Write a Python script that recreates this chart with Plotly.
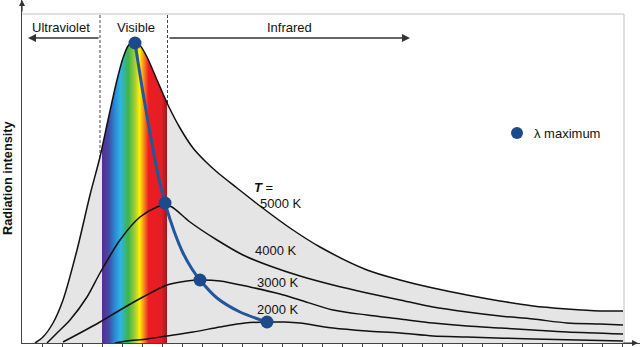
import numpy as np
import plotly.graph_objects as go

# ---- data (arbitrary wavelength / intensity units) ----
x5000 = [13, 21, 31, 41, 55, 68, 78, 86, 95, 101, 106, 111, 117, 125, 135, 146, 158, 171, 183, 195,
         215, 238, 268, 298, 345, 378, 411, 445, 478, 511, 545, 578, 601]
y5000 = [0, 6, 20, 43, 93, 148, 186, 223, 263, 285, 297, 302, 299, 286, 263, 238, 215, 195, 182, 171,
         155, 137, 115, 96, 73, 63, 55, 48, 42, 37, 34, 32, 32]

x4000 = [25, 35, 48, 65, 78, 98, 118, 135, 143, 150, 168, 195, 221, 248, 278, 311, 345, 378, 411,
         445, 478, 511, 545, 578, 601]
y4000 = [0, 10, 23, 46, 70, 103, 126, 136, 138, 136, 121, 103, 88, 77, 67, 58, 50, 43, 36,
         31, 27, 24, 20, 19, 18]

x3000 = [41, 58, 78, 98, 121, 145, 165, 178, 198, 228, 258, 278, 311, 345, 378, 411, 445, 478,
         511, 545, 601]
y3000 = [1, 10, 21, 33, 46, 58, 62, 63, 62, 56, 49, 43, 33, 28, 24, 20, 17, 15, 13, 11, 9]

x2000 = [93, 105, 125, 145, 171, 198, 223, 245, 263, 278, 311, 345, 378, 411, 445, 511, 601]
y2000 = [0, 2, 4, 7, 11, 16, 20, 21, 21, 20, 15, 12, 10, 7, 6, 4, 2]

lam_x = [113, 121, 129, 136, 143, 152, 161, 170, 178, 195, 218, 245]
lam_y = [300, 250, 205, 168, 140, 112, 90, 74, 63, 45, 31, 21]
peak_x = [113, 143, 178, 245]
peak_y = [300, 140, 63, 21]

temp_labels = ["5000 K", "4000 K", "3000 K", "2000 K"]
band_labels = ["Ultraviolet", "Visible", "Infrared"]
vis_lo, vis_hi = 80, 145          # visible band limits (data x)
uv_edge, ir_edge = 78, 145.5      # dashed boundary lines
ticks = list(range(20, 601, 20))

spectrum = [[0.0, "#5b2c8f"], [0.1, "#3f4ca6"], [0.2, "#2a8ed6"], [0.28, "#2fb4e6"],
            [0.4, "#3cb54a"], [0.5, "#9ccb3b"], [0.58, "#fff200"], [0.64, "#f7941d"],
            [0.72, "#ed1c24"], [0.92, "#e31e25"], [1.0, "#a8181e"]]

FONT = "Liberation Sans, Arial, sans-serif"
BLACK = "#111111"
BLUE_LINE = "#24569c"
BLUE_DOT = "#1c4a8a"
GRAY = "#e5e5e5"

fig = go.Figure()

# ---- gray fill under the 5000 K curve (outside the visible band) ----
xa = np.array(x5000, float)
ya = np.array(y5000, float)
left = xa < vis_lo
fx_l = np.append(xa[left], vis_lo)
fy_l = np.append(ya[left], np.interp(vis_lo, xa, ya))
right = xa > vis_hi
fx_r = np.insert(xa[right], 0, vis_hi)
fy_r = np.insert(ya[right], 0, np.interp(vis_hi, xa, ya))
for fx, fy in ((fx_l, fy_l), (fx_r, fy_r)):
    fig.add_trace(go.Scatter(x=fx, y=fy, mode="lines", line=dict(width=0, shape="spline"),
                             fill="tozeroy", fillcolor=GRAY, hoverinfo="skip"))

# ---- rainbow band clipped by the 5000 K curve ----
xc = np.arange(vis_lo + 0.5, vis_hi + 0.5, 1.0)
yc = np.arange(0.25, 305, 0.5)
h = np.interp(xc, xa, ya)
frac = (xc - xc[0]) / (xc[-1] - xc[0])
Z = np.where(yc[:, None] <= h[None, :], frac[None, :], np.nan)
fig.add_trace(go.Heatmap(x=xc, y=yc, z=Z, colorscale=spectrum, zmin=0, zmax=1,
                         showscale=False, hoverinfo="skip", zsmooth=False))

# ---- blackbody curves ----
for cx, cy in ((x5000, y5000), (x4000, y4000), (x3000, y3000), (x2000, y2000)):
    fig.add_trace(go.Scatter(x=cx, y=cy, mode="lines",
                             line=dict(color=BLACK, width=1.5, shape="spline", smoothing=0.8),
                             hoverinfo="skip"))

# ---- lambda max line and points ----
fig.add_trace(go.Scatter(x=lam_x, y=lam_y, mode="lines",
                         line=dict(color=BLUE_LINE, width=3, shape="spline", smoothing=0.8),
                         hoverinfo="skip"))
fig.add_trace(go.Scatter(x=peak_x, y=peak_y, mode="markers",
                         marker=dict(color=BLUE_DOT, size=13), hoverinfo="skip"))
# legend dot
fig.add_trace(go.Scatter(x=[495], y=[210], mode="markers",
                         marker=dict(color=BLUE_DOT, size=12), hoverinfo="skip"))

shapes = []
# panel frame (top and right)
shapes.append(dict(type="line", x0=0, x1=602, y0=329, y1=329, layer="below",
                   line=dict(color="#d4d4d4", width=1.5)))
shapes.append(dict(type="line", x0=602, x1=602, y0=0, y1=329, layer="below",
                   line=dict(color="#d4d4d4", width=1.5)))
# dashed band boundaries
for xe in (uv_edge, ir_edge):
    shapes.append(dict(type="line", x0=xe, x1=xe, y0=0, y1=329, layer="below",
                       line=dict(color="#444444", width=1, dash="3px,2px")))

ann = []
def arrow(x, y, ax, ay, w=1.6):
    ann.append(dict(x=x, y=y, ax=ax, ay=ay, xref="x", yref="y", axref="x", ayref="y",
                    text="", showarrow=True, arrowhead=2, arrowsize=1, arrowwidth=w,
                    arrowcolor="#333333"))

arrow(6, 305, uv_edge, 305)
arrow(388, 305, ir_edge + 0.5, 305)
arrow(0, 343, 0, 330, 1.2)
arrow(616, 0, 600, 0, 1.2)

def text(x, y, s, size=13, xanchor="center", **kw):
    ann.append(dict(x=x, y=y, xref="x", yref="y", text=s, showarrow=False,
                    xanchor=xanchor, yanchor="middle",
                    font=dict(family=FONT, size=size, color="#111111"), **kw))

text(39, 316, band_labels[0])
text(113.5, 316, band_labels[1])
text(267.5, 316, band_labels[2])
text(230, 156, "<b><i>T</i></b> =", xanchor="left")
text(236, 140, temp_labels[0], xanchor="left")
text(231, 93, temp_labels[1], xanchor="left")
text(233, 61, temp_labels[2], xanchor="left")
text(233, 34, temp_labels[3], xanchor="left")
text(510, 210, "λ maximum", xanchor="left")

ann.append(dict(xref="paper", yref="y", x=0, y=165, xshift=-14, text="<b>Radiation intensity</b>",
                showarrow=False, textangle=-90, xanchor="center", yanchor="middle",
                font=dict(family=FONT, size=12.7, color="#111111")))

fig.update_layout(
    width=640, height=347, margin=dict(l=22, r=0, t=0, b=4),
    plot_bgcolor="white", paper_bgcolor="white", showlegend=False,
    shapes=shapes, annotations=ann,
    xaxis=dict(range=[0, 618], showline=True, linecolor="#444444", linewidth=1,
               ticks="outside", tickvals=ticks, ticklen=4, tickcolor="#444444",
               showticklabels=False, showgrid=False, zeroline=False, fixedrange=True),
    yaxis=dict(range=[0, 343], showline=True, linecolor="#444444", linewidth=1,
               ticks="", showticklabels=False, showgrid=False, zeroline=False, fixedrange=True),
)

fig.write_html("out.html")
